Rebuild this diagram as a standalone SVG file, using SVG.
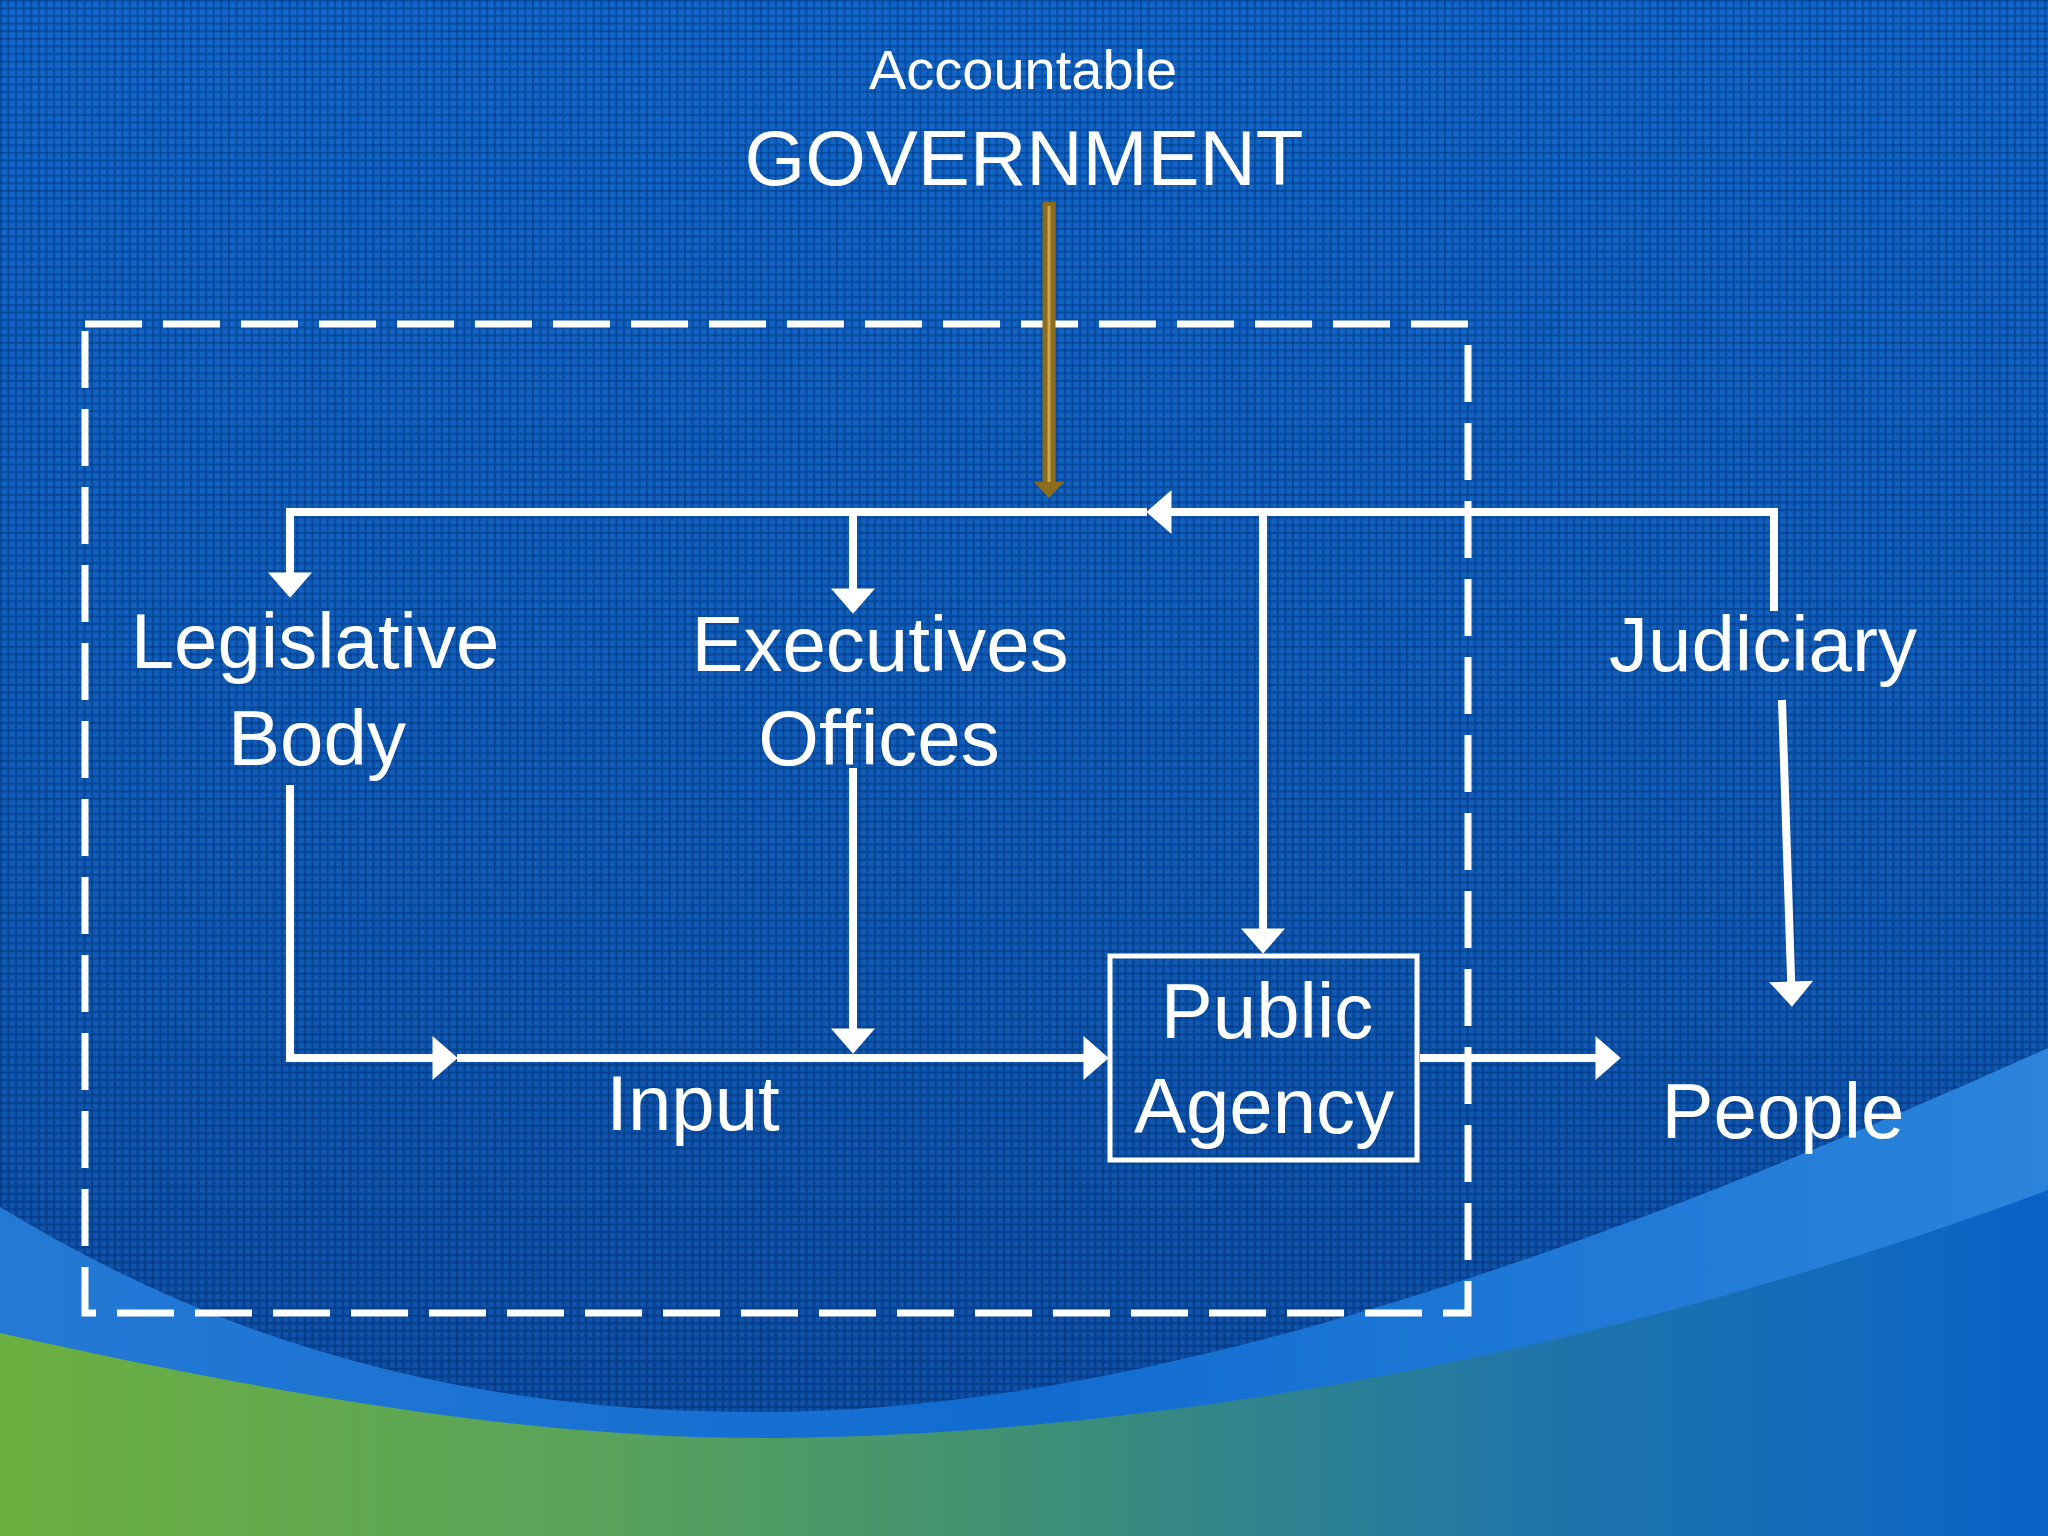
<svg xmlns="http://www.w3.org/2000/svg" width="2048" height="1536" viewBox="0 0 2048 1536">
  <defs>
    <linearGradient id="bgBlue" x1="0" y1="0" x2="0" y2="1">
      <stop offset="0" stop-color="#0d62c6"/>
      <stop offset="0.6" stop-color="#0b55b0"/>
      <stop offset="1" stop-color="#09469a"/>
    </linearGradient>
    <pattern id="grid" width="7.6" height="7.6" patternUnits="userSpaceOnUse">
      <rect x="0" y="0" width="7.6" height="1.6" fill="#00245a" fill-opacity="0.35"/>
      <rect x="0" y="0" width="1.6" height="7.6" fill="#00245a" fill-opacity="0.35"/>
      <rect x="2.6" y="2.6" width="4" height="4" fill="#4a90e0" fill-opacity="0.12"/>
    </pattern>
    <linearGradient id="band" x1="0" y1="0" x2="1" y2="0">
      <stop offset="0" stop-color="#2479d4"/>
      <stop offset="0.5" stop-color="#126cd0"/>
      <stop offset="1" stop-color="#2b84da"/>
    </linearGradient>
    <linearGradient id="ground" x1="0" y1="0" x2="1" y2="0">
      <stop offset="0" stop-color="#6cb040"/>
      <stop offset="0.3" stop-color="#58a25c"/>
      <stop offset="0.5" stop-color="#3f9074"/>
      <stop offset="0.75" stop-color="#1f75a8"/>
      <stop offset="1" stop-color="#0963c8"/>
    </linearGradient>
    <marker id="arrow" markerUnits="userSpaceOnUse" markerWidth="26" markerHeight="44" viewBox="0 0 24 42" refX="10" refY="21" orient="auto">
      <path d="M0,0 L24,21 L0,42 Z" fill="#ffffff"/>
    </marker>
    <style>
      .lbl { font-family: "Liberation Sans", Arial, sans-serif; fill: #ffffff; text-anchor: middle; font-size: 78px; }
      .small { font-size: 56px; }
      .conn { fill: none; stroke: #ffffff; stroke-width: 8; stroke-linejoin: miter; }
      .arr { marker-end: url(#arrow); }
    </style>
  </defs>

  <!-- background -->
  <g id="background">
    <rect x="0" y="0" width="2048" height="1536" fill="url(#bgBlue)"/>
    <rect x="0" y="0" width="2048" height="1536" fill="url(#grid)"/>
    <path d="M0,1207 C250,1360 500,1412 760,1412 C1150,1412 1600,1250 2048,1048 L2048,1536 L0,1536 Z" fill="url(#band)"/>
    <path d="M0,1333 C300,1400 550,1440 780,1438 C1250,1432 1700,1320 2048,1190 L2048,1536 L0,1536 Z" fill="url(#ground)"/>
  </g>

  <!-- dashed boundary -->
  <g id="boundary">
    <rect x="85" y="324" width="1383" height="989" fill="none" stroke="#ffffff" stroke-width="7" stroke-dasharray="57 21"/>
  </g>

  <!-- connectors -->
  <g id="connectors">
    <path class="conn arr" d="M1774,611 V512 H1161"/>
    <path class="conn arr" d="M1147,512 H290 V583"/>
    <path class="conn arr" d="M853,512 V599"/>
    <path class="conn arr" d="M1263,512 V939"/>
    <path class="conn arr" d="M290,785 V1058 H443"/>
    <path class="conn arr" d="M457,1058 H1094"/>
    <path class="conn arr" d="M853,768 V1039"/>
    <path class="conn arr" d="M1420,1058 H1606"/>
    <path class="conn arr" d="M1782,700 L1791.5,992"/>
    <g id="gov-arrow">
      <line x1="1049" y1="202" x2="1049" y2="486" stroke="#8c6d1f" stroke-width="13"/>
      <line x1="1049" y1="206" x2="1049" y2="482" stroke="#c9a650" stroke-width="3"/>
      <polygon points="1034,482 1064,482 1049,498" fill="#8c6d1f"/>
    </g>
  </g>

  <!-- nodes -->
  <g id="title">
    <text class="lbl small" x="1023" y="89">Accountable</text>
    <text class="lbl" x="1024" y="185">GOVERNMENT</text>
  </g>
  <g id="legislative">
    <text class="lbl" x="315" y="668">Legislative</text>
    <text class="lbl" x="317" y="765">Body</text>
  </g>
  <g id="executives">
    <text class="lbl" x="880" y="671">Executives</text>
    <text class="lbl" x="879" y="765">Offices</text>
  </g>
  <g id="judiciary">
    <text class="lbl" x="1763" y="671">Judiciary</text>
  </g>
  <g id="input">
    <text class="lbl" x="693" y="1130">Input</text>
  </g>
  <g id="public-agency">
    <rect x="1110" y="956" width="307" height="204" fill="none" stroke="#ffffff" stroke-width="5"/>
    <text class="lbl" x="1267" y="1038">Public</text>
    <text class="lbl" x="1264" y="1133">Agency</text>
  </g>
  <g id="people">
    <text class="lbl" x="1783" y="1138">People</text>
  </g>
</svg>
